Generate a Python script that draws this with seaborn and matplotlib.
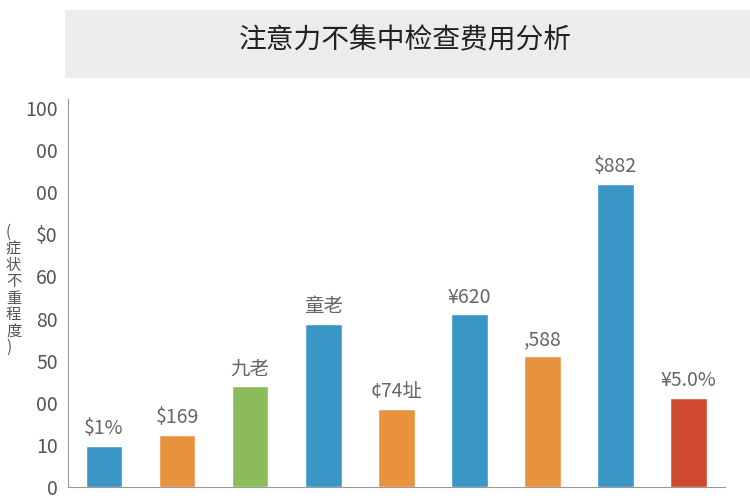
import matplotlib.pyplot as plt
import seaborn as sns
import pandas as pd
from matplotlib.patches import Rectangle

categories = ["A", "B", "C", "D", "E", "F", "G", "H", "I"]
values = [0.98, 1.24, 2.4, 3.88, 1.86, 4.1, 3.1, 7.2, 2.12]
bar_labels = ["$1%", "$169", "九老", "童老", "¢74址", "¥620", ",588", "$882", "¥5.0%"]
colors = ["#3a96c4", "#e8923e", "#8cbb5a", "#3a96c4", "#e8923e",
          "#3a96c4", "#e8923e", "#3a96c4", "#cf4a2e"]
tick_labels = ["0", "10", "00", "50", "80", "60", "$0", "00", "00", "100"]

sns.set_style("white")
plt.rcParams['font.family'] = ['Noto Sans CJK SC', 'DejaVu Sans']

df = pd.DataFrame({"cat": categories, "val": values})
fig = plt.figure(figsize=(7.5, 5), dpi=100)
ax = fig.add_axes([0.09, 0.026, 0.877, 0.775])
sns.barplot(data=df, x="cat", y="val", hue="cat", palette=colors, legend=False,
            width=0.5, saturation=1, ax=ax)
for i, (v, t) in enumerate(zip(values, bar_labels)):
    ax.text(i, v + 0.15, t, ha="center", va="bottom", fontsize=14, color="#666666")

ax.set_ylim(0, 9.2)
ax.set_yticks(range(10))
ax.set_yticklabels(tick_labels, fontsize=14, color="#555555")
ax.set_xticks([])
ax.set_xlabel("")
ax.set_ylabel("")
for s in ["top", "right"]:
    ax.spines[s].set_visible(False)
ax.spines["left"].set_color("#999999")
ax.spines["bottom"].set_color("#999999")
ax.yaxis.grid(False)

fig.text(0.008, 0.42, "(\n症\n状\n不\n重\n程\n度\n)", fontsize=11, color="#555555",
         va="center", ha="left", linespacing=0.95)
fig.patches.append(Rectangle((0.087, 0.844), 0.913, 0.136, transform=fig.transFigure,
                             facecolor="#ececec", edgecolor="none"))
fig.text(0.54, 0.92, "注意力不集中检查费用分析", fontsize=20, ha="center", va="center",
         color="#222222")
fig.savefig("out.png")
